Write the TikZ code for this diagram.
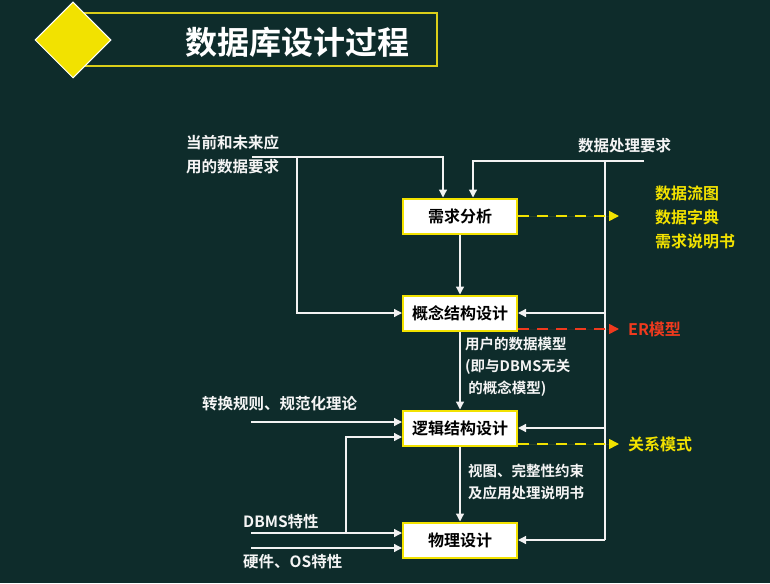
\documentclass[tikz,border=0pt]{standalone}
\usepackage{fontspec}
\setmainfont{Noto Sans CJK SC}[BoldFont={* Bold}]
\usetikzlibrary{arrows.meta,shapes.geometric}
\definecolor{bg}{HTML}{0E2C2B}
\definecolor{yel}{HTML}{F2E200}
\definecolor{redc}{HTML}{F03A1E}
\begin{document}
\begin{tikzpicture}[x=1pt,y=-1pt,
  proc/.style={draw=yel,line width=2pt,fill=white,minimum width=114pt,minimum height=35pt,inner sep=0pt,font=\bfseries\fontsize{16}{16}\selectfont,text=black},
  wl/.style={draw=white!90!gray,line width=1.3pt},
  arr/.style={wl,-{Triangle[length=8pt,width=8pt]}},
  dsh/.style={line width=1.6pt,dash pattern=on 11pt off 8pt,-{Triangle[length=10pt,width=10pt]}},
  lbl/.style={text=white!92!gray,font=\bfseries\fontsize{15.5}{24}\selectfont,inner sep=0pt},
  ylbl/.style={text=yel,font=\bfseries\fontsize{16}{24}\selectfont,inner sep=0pt}]
\fill[bg] (0,0) rectangle (770,583);
\useasboundingbox (0,0) rectangle (770,583);
% title
\draw[yel!80!gray,line width=1.2pt] (85,13) rectangle (437,66);
\node[diamond,draw=white,line width=1pt,fill=yel,minimum width=76pt,minimum height=76pt,inner sep=0pt] (dia) at (73,40) {};
\node[text=white,font=\bfseries\fontsize{32}{32}\selectfont] (title) at (297,42) {数据库设计过程};
% boxes
\node[proc] (b1) at (460,216) {需求分析};
\node[proc] (b2) at (460,313) {概念结构设计};
\node[proc] (b3) at (460,428) {逻辑结构设计};
\node[proc] (b4) at (460,540) {物理设计};
% texts
\node[lbl,align=left,anchor=north west] (tl) at (186,135) {当前和未来应\\用的数据要求};
\node[lbl,anchor=west] (tr) at (578,146) {数据处理要求};
\node[ylbl,align=left,anchor=west] (o1) at (655,217) {数据流图\\数据字典\\需求说明书};
\node[text=redc,font=\bfseries\fontsize{16}{16}\selectfont,inner sep=0pt,anchor=west] (o2) at (628,329) {ER模型};
\node[ylbl,anchor=west] (o3) at (628,444) {关系模式};
\node[lbl,align=left,anchor=north west,font=\bfseries\fontsize{14.5}{22}\selectfont] (m1) at (465,337) {用户的数据模型\\(即与DBMS无关\\\ 的概念模型)};
\node[lbl,align=left,anchor=north west,font=\bfseries\fontsize{14.5}{22}\selectfont] (m2) at (468,464) {视图、完整性约束\\及应用处理说明书};
\node[lbl,anchor=west] (r1) at (202,404) {转换规则、规范化理论};
\node[lbl,anchor=west] (r2) at (243,522) {DBMS特性};
\node[lbl,anchor=west] (r3) at (243,562) {硬件、OS特性};
% coordinates
\coordinate (la) at (252,157);
\coordinate (lb) at (297,157);
\coordinate (ra) at (644,161);
\coordinate (rv) at (605,161);
% left top input
\draw[arr] (la) -| ([xshift=-17pt]b1.north);
\draw[arr] (lb) |- (b2.west);
% right input
\draw[arr] (ra) -| ([xshift=13pt]b1.north);
\draw[wl] (rv) -- (605,540);
\draw[arr] (605,313) -- (b2.east);
\draw[arr] (605,428) -- (b3.east);
\draw[arr] (605,540) -- (b4.east);
% chain
\draw[arr] (b1) -- (b2);
\draw[arr] (b2) -- (b3);
\draw[arr] (b3) -- (b4);
% outputs
\draw[dsh,draw=yel,fill=yel] (b1.east) -- (619,216);
\draw[dsh,draw=redc,fill=redc] ([yshift=-16pt]b2.east) -- (619,329);
\draw[dsh,draw=yel,fill=yel] ([yshift=-16pt]b3.east) -- (619,444);
% left inputs
\draw[arr] (251,422) -- ([yshift=6pt]b3.west);
\draw[arr] (346,533) |- ([yshift=-9pt]b3.west);
\draw[arr] (251,533) -- ([yshift=7pt]b4.west);
\draw[arr] (251,548) -- ([yshift=-8pt]b4.west);
\end{tikzpicture}
\end{document}
